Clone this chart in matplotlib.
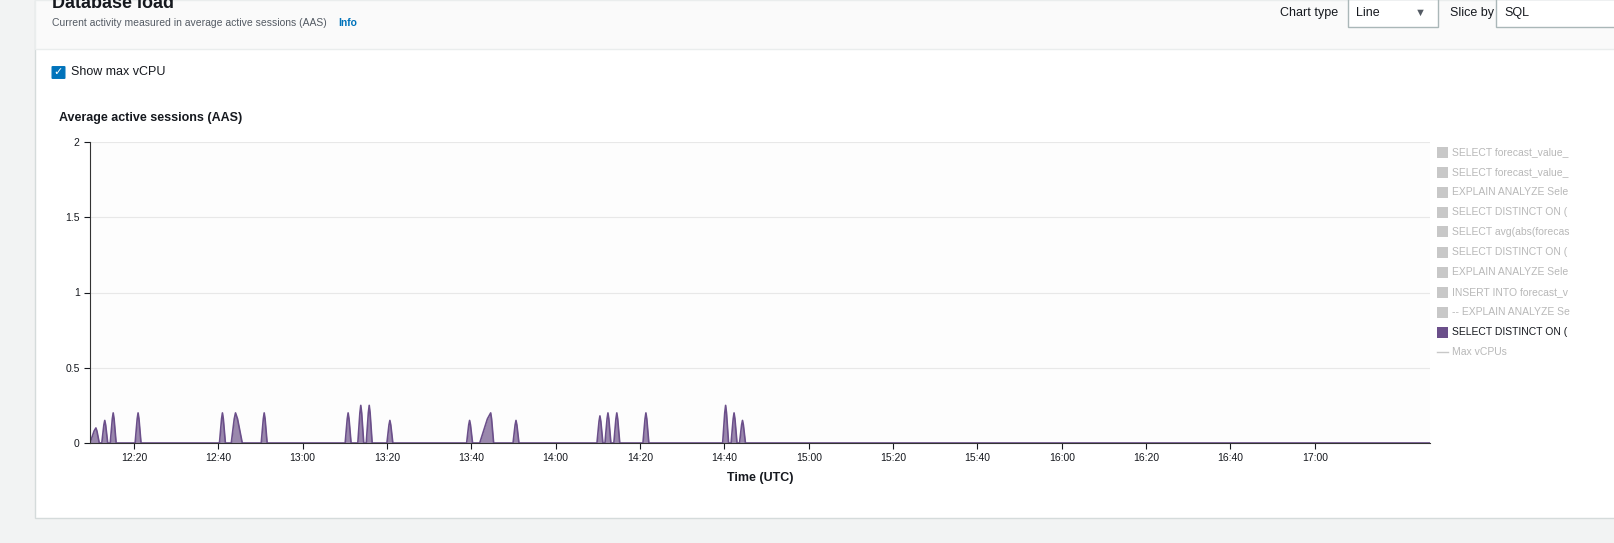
import matplotlib.pyplot as plt
from matplotlib.patches import Rectangle, FancyBboxPatch

# minutes after 12:00, peak heights (AAS), rise/fall widths (min)
spike_min = [11.0, 13.1, 15.1, 21.0, 41.0, 44.1, 50.9, 70.8, 73.8, 75.8, 80.7,
             99.6, 104.6, 110.6, 130.5, 132.4, 134.5, 141.4, 160.3, 162.3, 164.3]
spike_h = [0.10, 0.15, 0.20, 0.20, 0.20, 0.20, 0.20, 0.20, 0.25, 0.25, 0.15,
           0.15, 0.20, 0.15, 0.18, 0.20, 0.20, 0.20, 0.25, 0.20, 0.15]
spike_rise = [1.4, 0.7, 0.7, 0.7, 0.7, 1.0, 0.7, 0.7, 0.7, 0.7, 0.7,
              0.7, 2.6, 0.7, 0.7, 0.7, 0.7, 0.7, 0.7, 0.7, 0.7]
spike_fall = [0.8, 0.7, 0.7, 0.7, 0.7, 1.6, 0.7, 0.7, 0.7, 0.7, 0.7,
              0.7, 0.7, 0.7, 0.7, 0.7, 0.7, 0.7, 0.7, 0.7, 0.7]

tick_min = [20, 40, 60, 80, 100, 120, 140, 160, 180, 200, 220, 240, 260, 280, 300]
tick_lbl = ['12:20', '12:40', '13:00', '13:20', '13:40', '14:00', '14:20', '14:40',
            '15:00', '15:20', '15:40', '16:00', '16:20', '16:40', '17:00']
legend_items = ['SELECT forecast_value_', 'SELECT forecast_value_', 'EXPLAIN ANALYZE Sele',
                'SELECT DISTINCT ON (', 'SELECT avg(abs(forecas', 'SELECT DISTINCT ON (',
                'EXPLAIN ANALYZE Sele', 'INSERT INTO forecast_v', '-- EXPLAIN ANALYZE Se',
                'SELECT DISTINCT ON (']

W, H = 1614, 543
fig = plt.figure(figsize=(W / 100, H / 100), dpi=100)
fig.patch.set_facecolor('#f2f3f3')
plt.rcParams['font.family'] = ['Liberation Sans', 'DejaVu Sans']

def fx(x): return x / W
def fy(y): return 1 - y / H

# panel
fig.patches.append(Rectangle((fx(35), fy(518)), fx(W), 518 / H, transform=fig.transFigure,
                             facecolor='white', edgecolor='#d5dbdb', lw=1, zorder=-2))
fig.patches.append(Rectangle((fx(35), fy(49)), fx(W), 49 / H, transform=fig.transFigure,
                             facecolor='#fafafa', edgecolor='#eaeded', lw=1, zorder=-1))
fig.text(fx(52), fy(4), 'Database load', fontsize=13, weight='bold', color='#16191f', va='center')
fig.text(fx(52), fy(23), 'Current activity measured in average active sessions (AAS)',
         fontsize=7.5, color='#545b64', va='center')
fig.text(fx(338), fy(23), 'Info', fontsize=7.5, weight='bold', color='#0073bb', va='center')
fig.text(fx(1280), fy(13), 'Chart type', fontsize=9, color='#16191f', va='center')
fig.patches.append(Rectangle((fx(1348), fy(27)), fx(90), 28 / H, transform=fig.transFigure,
                             facecolor='white', edgecolor='#aab7b8', lw=1))
fig.text(fx(1356), fy(13), 'Line', fontsize=9, color='#16191f', va='center')
fig.text(fx(1415), fy(13), '▼', fontsize=8, color='#545b64', va='center')
fig.text(fx(1450), fy(13), 'Slice by', fontsize=9, color='#16191f', va='center')
fig.patches.append(Rectangle((fx(1496), fy(27)), fx(130), 28 / H, transform=fig.transFigure,
                             facecolor='white', edgecolor='#aab7b8', lw=1))
fig.text(fx(1504), fy(13), 'SQL', fontsize=9, color='#16191f', va='center')
fig.patches.append(FancyBboxPatch((fx(53), fy(78)), fx(11), 11 / H, transform=fig.transFigure,
                                  boxstyle='round,pad=0.0005', facecolor='#0073bb', edgecolor='#0073bb'))
fig.text(fx(58.5), fy(72.5), '✓', fontsize=8, color='white', weight='bold', ha='center', va='center',
         family='DejaVu Sans')
fig.text(fx(71), fy(72), 'Show max vCPU', fontsize=9, color='#16191f', va='center')
fig.text(fx(59), fy(118), 'Average active sessions (AAS)', fontsize=9, weight='bold', color='#16191f', va='center')

# chart
ax = fig.add_axes([fx(90), fy(443), fx(1340), 301 / H])
ax.set_zorder(5)
ax.set_facecolor('#fdfdfd')
xs, ys = [9.6], [0.0]
for m, h, r, f in zip(spike_min, spike_h, spike_rise, spike_fall):
    xs += [max(m - r, 9.6), m - 0.3 * r, m, m + 0.3 * f, m + f]
    ys += [0.0, 0.8 * h, h, 0.8 * h, 0.0]
xs.append(327.3)
ys.append(0.0)
ax.fill_between(xs, ys, color='#9a88ad', lw=0)
ax.plot(xs, ys, color='#6b4f8a', lw=1.2)
ax.set_xlim(9.6, 327.3)
ax.set_ylim(0, 2)
ax.set_yticks([0, 0.5, 1, 1.5, 2])
ax.set_yticklabels(['0', '0.5', '1', '1.5', '2'])
ax.set_xticks(tick_min)
ax.set_xticklabels(tick_lbl)
ax.tick_params(labelsize=7.5, colors='#16191f', length=4, width=0.8)
ax.grid(axis='y', color='#e8e8e8', lw=0.8)
ax.set_axisbelow(True)
for s in ['top', 'right']:
    ax.spines[s].set_visible(False)
ax.spines['left'].set_color('#333333')
ax.spines['bottom'].set_color('#333333')
ax.set_xlabel('Time (UTC)', fontsize=9, weight='bold', color='#16191f', labelpad=6)

# legend
for i, t in enumerate(legend_items):
    y = 152 + i * 20
    last = i == len(legend_items) - 1
    fig.patches.append(Rectangle((fx(1437), fy(y + 5.5)), fx(11), 11 / H, transform=fig.transFigure,
                                 facecolor='#6b4f8a' if last else '#c8c8c8', lw=0))
    fig.text(fx(1452), fy(y), t, fontsize=7.5, color='#16191f' if last else '#b8b8b8', va='center')
fig.lines.append(plt.Line2D([fx(1437), fx(1448)], [fy(352), fy(352)], transform=fig.transFigure,
                            color='#c8c8c8', lw=1))
fig.text(fx(1452), fy(352), 'Max vCPUs', fontsize=7.5, color='#b8b8b8', va='center')

fig.savefig('out.png', dpi=100, facecolor=fig.get_facecolor())
